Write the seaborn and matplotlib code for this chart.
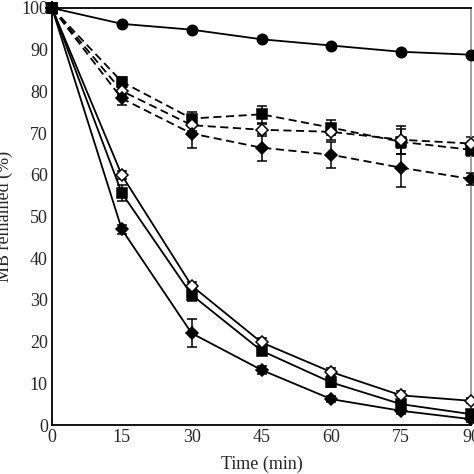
import matplotlib
matplotlib.use("Agg")
import matplotlib.pyplot as plt
import seaborn as sns
import pandas as pd

time = [0, 15, 30, 45, 60, 75, 90]

circle_solid = [100, 96.2, 94.8, 92.5, 91.0, 89.5, 88.8]

square_dash = [100, 82.3, 73.5, 74.5, 71.3, 67.9, 66.0]
open_dash = [100, 80.1, 71.9, 70.8, 70.3, 68.4, 67.5]
filled_dash = [100, 78.3, 69.9, 66.5, 64.8, 61.7, 59.0]
square_dash_err = [0, 1.2, 1.5, 2.0, 1.8, 3.0, 1.5]
open_dash_err = [0, 1.0, 1.5, 1.5, 2.0, 3.4, 1.5]
filled_dash_err = [0, 1.5, 3.4, 3.3, 3.1, 4.7, 1.5]

square_solid = [100, 55.6, 31.2, 17.8, 10.2, 5.0, 2.6]
open_solid = [100, 59.9, 33.4, 19.8, 12.7, 7.1, 5.8]
filled_solid = [100, 46.9, 22.0, 13.2, 6.2, 3.4, 1.4]
square_solid_err = [0, 2.0, 1.5, 1.0, 1.0, 1.0, 0.6]
open_solid_err = [0, 1.0, 1.0, 1.0, 1.0, 1.0, 0.6]
filled_solid_err = [0, 1.0, 3.4, 1.0, 0.8, 0.8, 0.6]

sns.set_style("white")
plt.rcParams['font.family'] = ['Liberation Serif', 'DejaVu Serif']

fig = plt.figure(figsize=(4.74, 4.74), dpi=100)
ax = fig.add_axes([52/474, 49/474, 419/474, 417/474])

series = [
    (circle_solid, None, 'o', 'black', '-'),
    (square_dash, square_dash_err, 's', 'black', '--'),
    (open_dash, open_dash_err, 'D', 'white', '--'),
    (filled_dash, filled_dash_err, 'D', 'black', '--'),
    (square_solid, square_solid_err, 's', 'black', '-'),
    (open_solid, open_solid_err, 'D', 'white', '-'),
    (filled_solid, filled_solid_err, 'D', 'black', '-'),
]

for vals, errs, mk, fc, ls in series:
    if errs is not None:
        ax.errorbar(time, vals, yerr=errs, fmt='none', ecolor='black',
                    elinewidth=1.1, capsize=3.5, capthick=1.1, clip_on=False, zorder=2)
    df = pd.DataFrame({'t': time, 'v': vals})
    ms = 7.5 if mk == 'o' else (7 if mk == 's' else 6.5)
    sns.lineplot(data=df, x='t', y='v', ax=ax, color='black', linestyle=ls,
                 linewidth=1.3, marker=mk, markersize=ms, markerfacecolor=fc,
                 markeredgecolor='black', markeredgewidth=1.1, clip_on=False, zorder=3)
    if ls == '--':
        ax.lines[-1].set_dashes([4.5, 2.5])

ax.set_xlim(0, 90)
ax.set_ylim(0, 100)
ax.set_xticks(time)
ax.set_yticks(range(0, 101, 10))
ax.tick_params(axis='x', direction='in', length=6, width=1.1, labelsize=13, pad=3)
ax.tick_params(axis='y', direction='in', length=4, width=1.1, labelsize=13, pad=3)
for s in ax.spines.values():
    s.set_color('black')
    s.set_linewidth(1.3)
ax.spines['right'].set_color('#999999')
ax.set_xlabel('Time (min)', fontsize=13, labelpad=7)
ax.set_ylabel('MB remained (%)', fontsize=13, labelpad=6)

fig.savefig('out.png', dpi=100)
